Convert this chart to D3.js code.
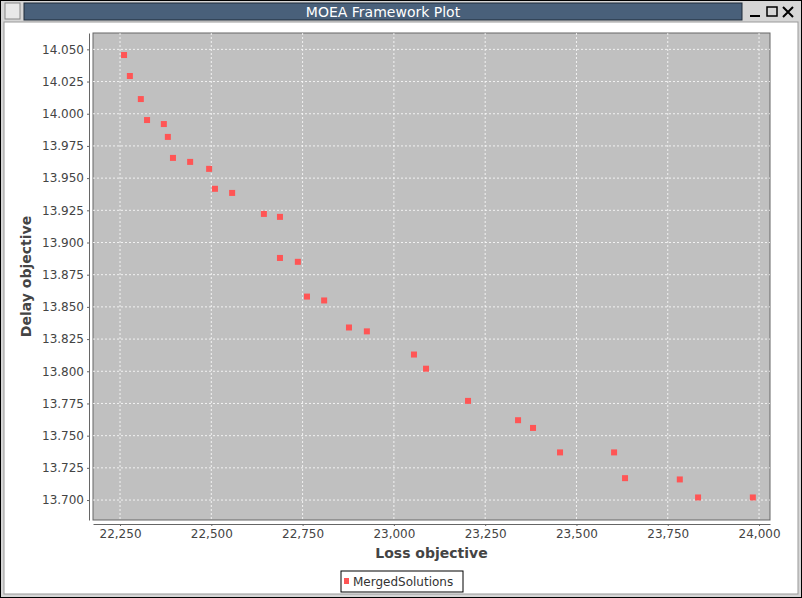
<!DOCTYPE html>
<html><head><meta charset="utf-8">
<script src="https://cdn.jsdelivr.net/npm/d3@7"></script>
<style>body{margin:0;background:#fff}svg{display:block;font-family:"DejaVu Sans",sans-serif}</style>
</head><body>
<script>
const loss = [22261,22277,22307,22324,22370,22381,22395,22442,22494,22510,22557,22644,22688,22688,22737,22762,22809,22877,22926,23055,23088,23203,23340,23381,23455,23603,23633,23783,23833,23983];
const delay = [14.0456,14.0293,14.0114,13.9951,13.992,13.982,13.9657,13.9626,13.9572,13.9417,13.9385,13.9222,13.9199,13.888,13.885,13.858,13.855,13.834,13.831,13.813,13.802,13.777,13.762,13.756,13.737,13.737,13.717,13.716,13.702,13.702];
const xTicks = [22250,22500,22750,23000,23250,23500,23750,24000];
const yTicks = [14.05,14.025,14.0,13.975,13.95,13.925,13.9,13.875,13.85,13.825,13.8,13.775,13.75,13.725,13.7];

const W = 802, H = 598;
const svg = d3.select('body').append('svg').attr('width', W).attr('height', H);

// window frame
svg.append('rect').attr('x',0.5).attr('y',0.5).attr('width',W-1).attr('height',H-1).attr('fill','#d6d6d6').attr('stroke','#000');
svg.append('rect').attr('x',4).attr('y',22).attr('width',W-8).attr('height',H-26).attr('fill','#fff').attr('stroke','#999');
svg.append('rect').attr('x',5).attr('y',3).attr('width',15).attr('height',16).attr('fill','#e8e8e8').attr('stroke','#888');
svg.append('rect').attr('x',24).attr('y',3).attr('width',718).attr('height',17).attr('fill','#49607a').attr('stroke','#1f2a38');
svg.append('text').attr('x',383).attr('y',17).attr('text-anchor','middle').attr('fill','#fff').attr('font-size',14).text('MOEA Framework Plot');
svg.append('line').attr('x1',750).attr('x2',760).attr('y1',16).attr('y2',16).attr('stroke','#000').attr('stroke-width',2);
svg.append('rect').attr('x',767).attr('y',7).attr('width',10).attr('height',9).attr('fill','none').attr('stroke','#000').attr('stroke-width',1.5);
svg.append('path').attr('d','M783,7L793,17M793,7L783,17').attr('stroke','#000').attr('stroke-width',2);

const L = 93, R = 770, T = 33, B = 520;
const x = d3.scaleLinear().domain([22176, 24030]).range([L, R]);
const y = d3.scaleLinear().domain([13.6845, 14.0627]).range([B, T]);

svg.append('rect').attr('x',L).attr('y',T).attr('width',R-L).attr('height',B-T).attr('fill','#c0c0c0').attr('stroke','#666');
svg.append('g').selectAll('line').data(xTicks).join('line')
  .attr('x1',d=>x(d)).attr('x2',d=>x(d)).attr('y1',T).attr('y2',B)
  .attr('stroke','#fff').attr('stroke-dasharray','2,2').attr('stroke-width',0.8);
svg.append('g').selectAll('line').data(yTicks).join('line')
  .attr('y1',d=>y(d)).attr('y2',d=>y(d)).attr('x1',L).attr('x2',R)
  .attr('stroke','#fff').attr('stroke-dasharray','2,2').attr('stroke-width',0.8);

const xa = svg.append('g').attr('transform',`translate(0,${B+4})`)
  .call(d3.axisBottom(x).tickValues(xTicks).tickSize(2).tickSizeOuter(0).tickFormat(d3.format(',')));
const ya = svg.append('g').attr('transform',`translate(${L-4},0)`)
  .call(d3.axisLeft(y).tickValues(yTicks).tickSize(2).tickSizeOuter(0).tickFormat(d3.format('.3f')));
[xa, ya].forEach(a => {
  a.selectAll('path,line').attr('stroke','#666');
  a.selectAll('text').attr('fill','#444').attr('font-size',12).attr('font-family','"DejaVu Sans",sans-serif');
});

svg.append('text').attr('x',(L+R)/2).attr('y',558).attr('text-anchor','middle').attr('font-size',14).attr('font-weight','bold').attr('fill','#444').text('Loss objective');
svg.append('text').attr('transform',`translate(31,${(T+B)/2}) rotate(-90)`).attr('text-anchor','middle').attr('font-size',14).attr('font-weight','bold').attr('fill','#444').text('Delay objective');

svg.append('g').selectAll('rect').data(loss).join('rect')
  .attr('x',(d)=>x(d)-3).attr('y',(d,i)=>y(delay[i])-3).attr('width',6).attr('height',6).attr('fill','#ff5555');

svg.append('rect').attr('x',341).attr('y',571).attr('width',122).attr('height',21).attr('fill','#fff').attr('stroke','#000');
svg.append('rect').attr('x',344).attr('y',578).attr('width',5).attr('height',6).attr('fill','#ff5555');
svg.append('text').attr('x',353).attr('y',586).attr('font-size',12).attr('fill','#333').text('MergedSolutions');
</script>
</body></html>
